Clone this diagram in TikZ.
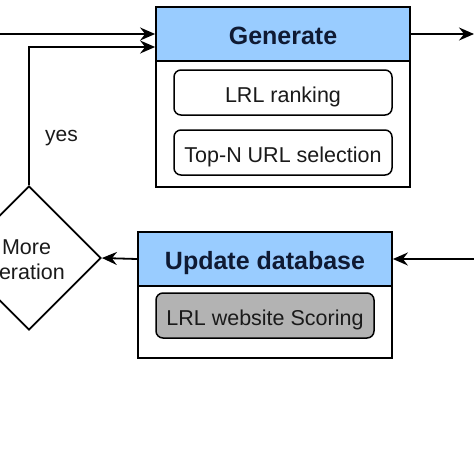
\documentclass[tikz,border=0pt]{standalone}
\usepackage{fontspec}
\setmainfont{Liberation Sans}
\usetikzlibrary{arrows.meta,shapes.geometric}
\definecolor{hdrblue}{HTML}{99CCFF}
\definecolor{hdrtext}{HTML}{0F1A33}
\definecolor{graybox}{HTML}{B3B3B3}
\definecolor{txt}{HTML}{1A1A1A}
\tikzset{
  outerbox/.style={draw, line width=1.8pt, rectangle, inner sep=0pt, fill=white},
  header/.style={draw, line width=1.8pt, rectangle, inner sep=0pt, fill=hdrblue, text=hdrtext, text height=20pt, text depth=0pt, font=\fontsize{25}{30}\selectfont\bfseries},
  stepbox/.style={draw, line width=1.5pt, rectangle, rounded corners=7pt, inner sep=0pt, minimum width=218pt, minimum height=45pt, text height=19.4pt, text depth=0pt, text=txt, font=\fontsize{21.5}{25}\selectfont},
  decision/.style={draw, line width=1.8pt, diamond, inner sep=0pt, minimum width=144pt, minimum height=144pt},
  dtext/.style={text=txt, align=center, inner sep=0pt, font=\fontsize{21.5}{25}\selectfont},
  arr/.style={line width=1.8pt, -{Stealth[length=15pt,width=13pt,inset=5pt]}},
  lbl/.style={text=txt, inner sep=0pt, font=\fontsize{21}{25}\selectfont}
}
\begin{document}
\begin{tikzpicture}[x=1pt,y=-1pt]
\useasboundingbox (0,0) rectangle (474,474);
% Generate block
\node[outerbox, minimum width=254pt, minimum height=180pt] (gen) at (283,97) {};
\node[header, minimum width=254pt, minimum height=54pt] (genh) at (283,34) {Generate};
\node[stepbox] (rank) at (283,92.5) {LRL ranking};
\node[stepbox] (topn) at (283,152.5) {Top-N URL selection};
% Update block
\node[outerbox, minimum width=254pt, minimum height=126pt] (upd) at (265,295) {};
\node[header, minimum width=254pt, minimum height=54pt] (updh) at (265,259) {Update database};
\node[stepbox, fill=graybox] (score) at (265,315.5) {LRL website Scoring};
% Decision
\node[decision] (dec) at (29,258) {};
\node[dtext] (dectxt) at (26.5,260) {More\\iteration};
% connectors
\coordinate (inL) at (0,34);
\coordinate (outR) at (474,34);
\coordinate (inR) at (474,259);
\draw[arr] (inL) -- (genh.west);
\draw[arr] (dec.north) |- ([yshift=-13pt]genh.west);
\draw[arr] (genh.east) -- (outR);
\draw[arr] (inR) -- (updh.east);
\draw[arr] (updh.west) -- (dec.east);
\node[lbl, anchor=base west] (yes) at (45,141.5) {yes};
\end{tikzpicture}
\end{document}
